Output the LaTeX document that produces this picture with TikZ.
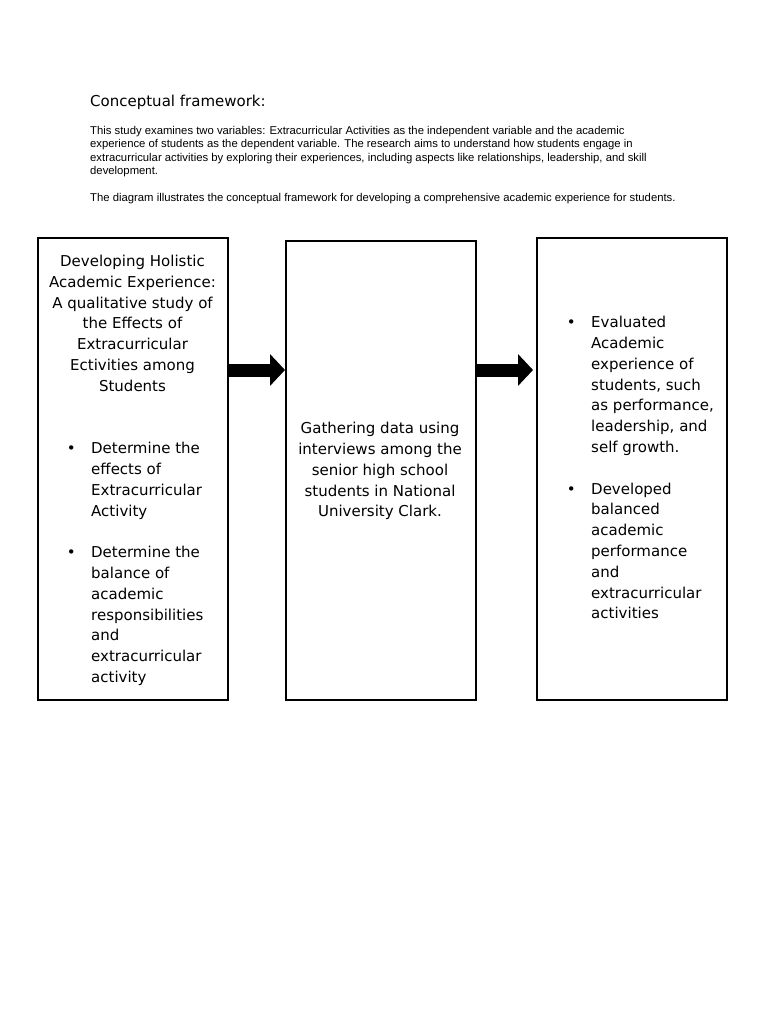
\documentclass[tikz,border=0pt]{standalone}
\usepackage{fontspec}
\setmainfont{DejaVu Sans}
\newfontfamily\arialfont{Liberation Sans}
\usetikzlibrary{arrows.meta}
\begin{document}
\begin{tikzpicture}[x=1pt,y=-1pt,
  frame/.style={draw,line width=1.5pt,inner sep=0pt,anchor=north west},
  boxtext/.style={font=\fontsize{15}{20.8}\selectfont,inner sep=0pt,anchor=north},
  bullets/.style={font=\fontsize{15}{20.8}\selectfont,inner sep=0pt,anchor=north west,align=left},
  flow/.style={line width=13pt,-{Triangle[length=15pt,width=31pt]}}]
  \useasboundingbox (0,0) rectangle (768,1024);
  \coordinate (arrowrow) at (0,370);
  \node[anchor=base west,inner sep=0pt,font=\fontsize{15}{18}\selectfont] (heading) at (90,106.5) {Conceptual framework:};
  \node[anchor=north west,inner sep=0pt,align=left,font=\arialfont\fontsize{11.3}{13.5}\selectfont] (intro) at (90,126) {This study examines two variables: Extracurricular Activities as the independent variable and the academic\\experience of students as the dependent variable. The research aims to understand how students engage in\\extracurricular activities by exploring their experiences, including aspects like relationships, leadership, and skill\\development.};
  \node[anchor=north west,inner sep=0pt,align=left,font=\arialfont\fontsize{11.3}{13.5}\selectfont] (summary) at (90,193) {The diagram illustrates the conceptual framework for developing a comprehensive academic experience for students.};
  \node[frame,minimum width=190pt,minimum height=462pt] (study) at (37,237) {};
  \node[frame,minimum width=190pt,minimum height=459pt] (method) at (285,240) {};
  \node[frame,minimum width=190pt,minimum height=462pt] (outcome) at (536,237) {};
  \node[boxtext,align=center] (title) at (132.5,255) {Developing Holistic\\Academic Experience:\\A qualitative study of\\the Effects of\\Extracurricular\\Ectivities among\\Students};
  \node[bullets] (aims) at (91,442) {\llap{\textbullet\hspace{15.5pt}}Determine the\\effects of\\Extracurricular\\Activity\\[20.8pt]\llap{\textbullet\hspace{15.5pt}}Determine the\\balance of\\academic\\responsibilities\\and\\extracurricular\\activity};
  \node[boxtext,align=center] (gather) at (380,422) {Gathering data using\\interviews among the\\senior high school\\students in National\\University Clark.};
  \node[bullets] (results) at (591,316) {\llap{\textbullet\hspace{15.5pt}}Evaluated\\Academic\\experience of\\students, such\\as performance,\\leadership, and\\self growth.\\[20.8pt]\llap{\textbullet\hspace{15.5pt}}Developed\\balanced\\academic\\performance\\and\\extracurricular\\activities};
  \draw[flow] (study.east |- arrowrow) -- (method.west |- arrowrow);
  \draw[flow,shorten >=3pt] (method.east |- arrowrow) -- (outcome.west |- arrowrow);
\end{tikzpicture}
\end{document}
